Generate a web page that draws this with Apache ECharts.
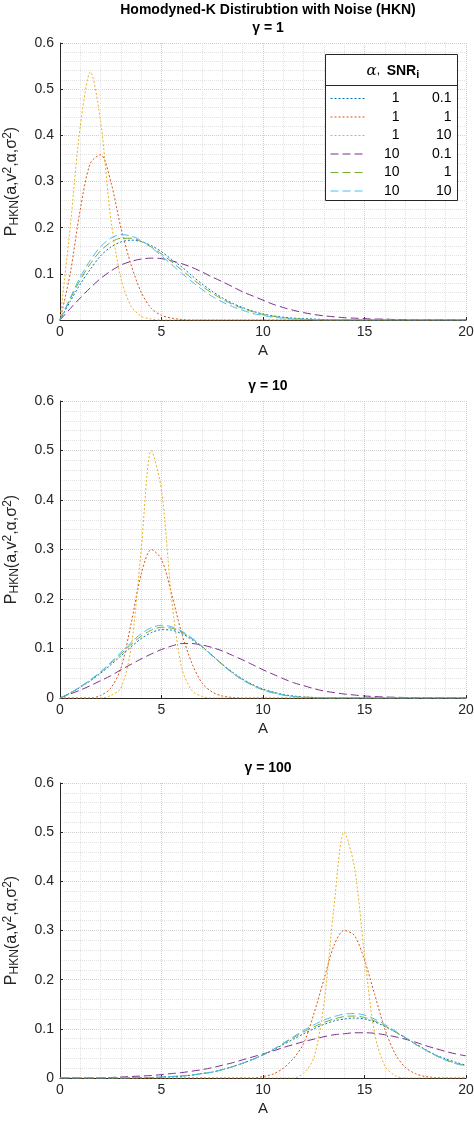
<!DOCTYPE html>
<html><head><meta charset="utf-8">
<script src="https://cdn.jsdelivr.net/npm/echarts@6/dist/echarts.min.js"></script>
<style>html,body{margin:0;padding:0;background:#fff}#c{width:474px;height:1121px}</style>
</head><body><div id="c"></div>
<script>
// x sampled every 0.5 from 0; shorter arrays fall to zero afterwards
const g1_blue=[0,0.040,0.078,0.110,0.139,0.158,0.169,0.173,0.170,0.161,0.148,0.131,0.115,0.096,0.078,0.062,0.048,0.036,0.027,0.019,0.013,0.009,0.006,0.004,0.003,0.002,0.001,0];
const g1_red=[0,0.10,0.24,0.34,0.358,0.30,0.20,0.12,0.06,0.025,0.01,0.004,0.001,0];
const g1_yellow=[0,0.20,0.42,0.537,0.43,0.22,0.09,0.03,0.008,0.002,0];
const g1_purple=[0,0.0245,0.048,0.070,0.090,0.106,0.119,0.127,0.132,0.134,0.133,0.128,0.122,0.114,0.104,0.093,0.083,0.072,0.061,0.052,0.043,0.034,0.027,0.021,0.016,0.012,0.009,0.007,0.005,0.004,0.003,0.002,0.002,0.001,0.001,0];
const g1_green=[0,0.045,0.087,0.122,0.150,0.168,0.177,0.177,0.170,0.158,0.143,0.126,0.108,0.090,0.073,0.058,0.045,0.034,0.025,0.018,0.012,0.008,0.005,0.003,0.002,0.001,0];
const g1_cyan=[0,0.048,0.093,0.130,0.159,0.177,0.185,0.182,0.172,0.157,0.139,0.120,0.101,0.083,0.066,0.051,0.039,0.029,0.021,0.014,0.010,0.006,0.004,0.002,0.001,0];

const g10_blue=[0,0.01,0.022,0.035,0.05,0.067,0.085,0.103,0.12,0.132,0.138,0.137,0.13,0.118,0.103,0.086,0.068,0.052,0.038,0.027,0.018,0.012,0.007,0.004,0.002,0.001,0];
const g10_red=[0,0,0,0,0.005,0.02,0.06,0.15,0.25,0.30,0.28,0.21,0.13,0.07,0.03,0.012,0.004,0.001,0];
const g10_yellow=[0,0,0,0,0,0.005,0.02,0.1,0.3,0.5,0.42,0.2,0.06,0.015,0.003,0];
const g10_purple=[0,0.008,0.016,0.025,0.035,0.045,0.057,0.068,0.079,0.089,0.098,0.105,0.11,0.11,0.107,0.102,0.095,0.086,0.077,0.067,0.057,0.048,0.039,0.031,0.025,0.019,0.014,0.011,0.008,0.006,0.004,0.003,0.002,0.0015,0.001,0];
const g10_green=[0,0.01,0.022,0.036,0.052,0.07,0.089,0.108,0.125,0.137,0.143,0.141,0.133,0.12,0.104,0.086,0.068,0.051,0.037,0.026,0.017,0.011,0.006,0.003,0.002,0.001,0];
const g10_cyan=[0,0.01,0.023,0.037,0.053,0.072,0.092,0.112,0.13,0.142,0.147,0.144,0.135,0.121,0.104,0.085,0.067,0.05,0.036,0.025,0.016,0.01,0.006,0.003,0.001,0];

const g100_blue=[0,0,0,0,0,0,0,0,0.001,0.001,0.002,0.003,0.004,0.006,0.009,0.012,0.017,0.023,0.03,0.038,0.047,0.057,0.068,0.079,0.09,0.1,0.109,0.116,0.12,0.122,0.12,0.114,0.105,0.094,0.082,0.07,0.058,0.047,0.039,0.032,0.026];
const g100_red=[0,0,0,0,0,0,0,0,0,0,0,0,0,0,0,0,0,0,0,0,0.003,0.008,0.02,0.04,0.07,0.13,0.2,0.27,0.3,0.29,0.24,0.17,0.1,0.05,0.022,0.009,0.003,0.001,0,0,0];
const g100_yellow=[0,0,0,0,0,0,0,0,0,0,0,0,0,0,0,0,0,0,0,0,0,0,0,0,0.01,0.04,0.15,0.35,0.5,0.43,0.25,0.09,0.025,0.005,0,0,0,0,0,0,0];
const g100_purple=[0,0,0,0,0,0.001,0.002,0.003,0.004,0.005,0.007,0.009,0.011,0.014,0.017,0.021,0.026,0.031,0.037,0.043,0.049,0.055,0.062,0.068,0.074,0.079,0.084,0.088,0.09,0.092,0.092,0.091,0.088,0.084,0.079,0.073,0.066,0.06,0.054,0.049,0.045];
const g100_green=[0,0,0,0,0,0,0,0,0.001,0.001,0.002,0.003,0.004,0.006,0.009,0.012,0.017,0.023,0.03,0.038,0.047,0.058,0.07,0.082,0.094,0.104,0.113,0.12,0.125,0.126,0.123,0.116,0.106,0.094,0.082,0.069,0.057,0.046,0.037,0.03,0.025];
const g100_cyan=[0,0,0,0,0,0,0,0,0.001,0.001,0.002,0.003,0.004,0.006,0.009,0.012,0.017,0.023,0.03,0.038,0.047,0.058,0.071,0.084,0.097,0.108,0.118,0.125,0.13,0.131,0.128,0.12,0.109,0.096,0.083,0.069,0.057,0.046,0.036,0.029,0.024];

const alphas=['1','1','1','10','10','10'];
const snrs=['0.1','1','10','0.1','1','10'];
const gammaTitles=['\u03b3 = 1','\u03b3 = 10','\u03b3 = 100'];
const xTicks=[0,5,10,15,20];
const yTicks=[0,0.1,0.2,0.3,0.4,0.5,0.6];

const colors=['#0072BD','#D95319','#EDB120','#7E2F8E','#77AC30','#4DBEEE'];
const dashes=[[2,2],[2,2],[2,2],[8,4],[8,4],[8,4]];
const panels=[[g1_blue,g1_red,g1_yellow,g1_purple,g1_green,g1_cyan],
 [g10_blue,g10_red,g10_yellow,g10_purple,g10_green,g10_cyan],
 [g100_blue,g100_red,g100_yellow,g100_purple,g100_green,g100_cyan]];
const mk=ys=>{const d=ys.map((y,i)=>[i*0.5,y]);if(d[d.length-1][0]<20)d.push([20,0]);return d;};

const grids=[{top:43,height:277},{top:401,height:297},{top:783,height:295}];
const font='Liberation Sans, Arial, sans-serif';
const opt={animation:false,textStyle:{fontFamily:font},
 title:[{text:'Homodyned-K Distirubtion with Noise (HKN)',left:263,textAlign:'center',top:-2,textStyle:{fontSize:14,fontWeight:'bold',color:'#000'}}],
 grid:[],xAxis:[],yAxis:[],series:[],graphic:[]};
grids.forEach((g,p)=>{
 opt.grid.push({left:60,width:406,top:g.top,height:g.height,containLabel:false,outerBoundsMode:'none'});
 opt.title.push({text:gammaTitles[p],left:263,textAlign:'center',top:g.top-27,textStyle:{fontSize:14,fontWeight:'bold',color:'#000'}});
 opt.xAxis.push({type:'value',gridIndex:p,min:0,max:20,interval:5,name:'A',nameLocation:'middle',nameGap:23,
  nameTextStyle:{fontSize:15,color:'#262626'},
  axisLine:{lineStyle:{color:'#262626'}},axisTick:{show:true,inside:true,length:3},
  axisLabel:{fontSize:14,color:'#262626',margin:5,formatter:v=>xTicks.includes(v)?String(v):''},
  splitLine:{show:true,lineStyle:{color:'#cfcfcf',type:'dotted'}},
  minorTick:{show:false,splitNumber:5},minorSplitLine:{show:true,lineStyle:{color:'#e2e2e2',type:'dotted'}}});
 opt.yAxis.push({type:'value',gridIndex:p,min:0,max:0.6,interval:0.1,
  name:'{a|P}{s|HKN}{a|(a,v}{p|2}{a|,α,σ}{p|2}{a|)}',nameLocation:'middle',nameGap:38,
  nameTextStyle:{rich:{a:{fontSize:16,color:'#262626'},s:{fontSize:12,color:'#262626',padding:[0,0,-6,0]},p:{fontSize:12,color:'#262626',padding:[0,0,8,0]}}},
  axisLine:{show:true,lineStyle:{color:'#262626'}},axisTick:{show:true,inside:true,length:3},
  axisLabel:{fontSize:14,color:'#262626',margin:6,formatter:v=>yTicks.some(t=>Math.abs(t-v)<1e-9)?(v===0?'0':v.toFixed(1)):''},
  splitLine:{show:true,lineStyle:{color:'#cfcfcf',type:'dotted'}},
  minorTick:{show:false,splitNumber:5},minorSplitLine:{show:true,lineStyle:{color:'#e2e2e2',type:'dotted'}}});
 panels[p].forEach((ys,i)=>opt.series.push({type:'line',xAxisIndex:p,yAxisIndex:p,data:mk(ys),smooth:0.3,showSymbol:false,
  lineStyle:{color:colors[i],width:1,type:dashes[i]},z:2+i}));
});
// legend box
const lg={type:'group',left:323,top:54,children:[
 {type:'rect',shape:{x:0,y:0,width:132,height:146},style:{fill:'#fff',stroke:'#262626',lineWidth:1},z:100},
 {type:'line',shape:{x1:0,y1:31,x2:132,y2:31},style:{stroke:'#262626',lineWidth:1},z:101},
 {type:'text',x:41,y:7,style:{text:'{i|α},  {b|SNR}{s|i}',rich:{i:{fontSize:15,fontStyle:'italic',fontFamily:'DejaVu Serif'},b:{fontSize:14,fontWeight:'bold'},s:{fontSize:11,fontWeight:'bold',padding:[8,0,0,0]}},fill:'#000'},z:101}
]};
alphas.forEach((a,i)=>{const y=44+i*18.5;
 lg.children.push({type:'line',shape:{x1:5,y1:y,x2:39,y2:y},style:{stroke:colors[i],lineWidth:1,lineDash:dashes[i]},z:101});
 lg.children.push({type:'text',x:74,y:y,style:{text:a,fontSize:14,fill:'#000',align:'right',verticalAlign:'middle'},z:101});
 lg.children.push({type:'text',x:126,y:y,style:{text:snrs[i],fontSize:14,fill:'#000',align:'right',verticalAlign:'middle'},z:101});
});
opt.graphic.push(lg);
echarts.init(document.getElementById('c')).setOption(opt);
</script></body></html>
